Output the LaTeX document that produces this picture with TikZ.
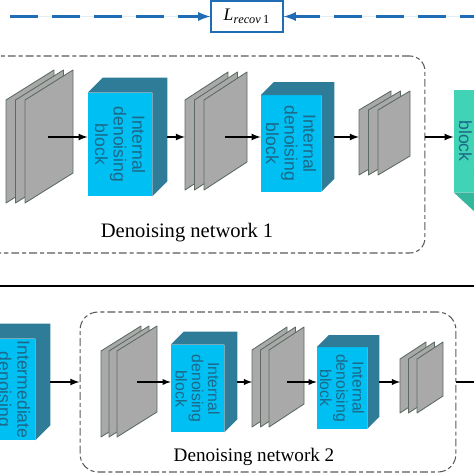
\documentclass[tikz,border=0pt]{standalone}
\usepackage{fontspec}
\setmainfont{Liberation Serif}
\setsansfont{Liberation Sans}
\usepackage{tikz}
\usetikzlibrary{arrows,calc,positioning}

\definecolor{sheetgray}{HTML}{A9A9A9}
\definecolor{sheetedge}{HTML}{5C6B62}
\definecolor{cubecyan}{HTML}{00BFF2}
\definecolor{cubedark}{HTML}{2E7C97}
\definecolor{cubeink}{HTML}{1D6888}
\definecolor{tealfront}{HTML}{40D3B6}
\definecolor{tealdark}{HTML}{34B79D}
\definecolor{lossblue}{HTML}{1F6DB5}
\definecolor{netgray}{HTML}{5A5A5A}

% faces of a block: node, depth
\newcommand{\cubefaces}[2]{%
    \fill[cubefront] ([yshift=-#2]#1.north west) rectangle ([xshift=-#2]#1.south east);
    \fill[cubeside] ([yshift=-#2]#1.north west) -- ([xshift=#2]#1.north west) -- (#1.north east)
        -- ([yshift=#2]#1.south east) -- ([xshift=-#2]#1.south east) -- ([xshift=-#2,yshift=-#2]#1.north east) -- cycle;
}
% three feature maps: x, bottom y, width, height, slant, gap
\newcommand{\fmaps}[6]{%
    \foreach \i in {0,1,2}
        \filldraw[sheet] ({#1+\i*#6},#2) -- ++(0,-#4) -- ++(#3,-#5) -- ++(0,#4) -- cycle;
}

\begin{document}
\begin{tikzpicture}[
        x=0.02cm, y=-0.02cm,
        >=latex,
        % Block styles
        sheet/.style={fill=sheetgray, draw=sheetedge, line width=0.5pt, line join=round},
        dblock/.style={rectangle, inner sep=0pt, draw=none},
        cubefront/.style={fill=cubecyan},
        cubeside/.style={fill=cubedark},
        cubetext/.style={
            rotate=-90,
            align=center,
            inner sep=0pt,
            text=cubeink,
            font=\sffamily\fontsize{10}{10.6}\selectfont
        },
        smalltext/.style={font=\sffamily\fontsize{9}{9.2}\selectfont},
        netbox/.style={
            rectangle,
            draw=netgray,
            line width=0.6pt,
            rounded corners=0.3cm,
            dash pattern=on 4.5pt off 1.7pt on 2.3pt off 1.7pt
        },
        netlabel/.style={font=\fontsize{11.7}{13}\selectfont},
        lossbox/.style={
            rectangle,
            draw=lossblue,
            line width=0.8pt,
            fill=white,
            minimum width=1.44cm,
            minimum height=0.62cm,
            font=\fontsize{10}{11}\selectfont
        },
        lossline/.style={->, draw=lossblue, fill=lossblue, line width=1.4pt, dash pattern=on 0.56cm off 0.28cm},
        arrow/.style={->, thick},
        arrowb/.style={->, semithick}
    ]
    \useasboundingbox (0,0) rectangle (474,474);
    \clip (0,0) rectangle (474,474);

    % Loss
    \node[lossbox] (loss) at (247,16.5) {$\mathit{L}_{\mathit{recov}\,\mathrm{1}}$};
    \coordinate (lossL) at (10,16.5);
    \coordinate (lossR) at (488,16.5);
    \draw[lossline] (lossL) -- (loss.west);
    \draw[lossline] (lossR) -- (loss.east);

    % Denoising network 1
    \node[netbox, minimum width=8.9cm, minimum height=3.94cm] (net1) at (202.5,154.5) {};
    \node[netlabel] (net1lbl) at (187,233) {Denoising network 1};

    \fmaps{6}{203}{48}{103}{30}{9.5}
    \coordinate (f1) at (48,137);
    \node[dblock, minimum width=1.58cm, minimum height=2.36cm] (b1) at (127.5,137) {};
    \cubefaces{b1}{0.3cm}
    \node[cubetext] (t1) at ([xshift=-0.15cm,yshift=-0.15cm]b1.center) {Internal\\denoising\\block};

    \fmaps{185}{190}{43}{90}{28}{9.5}
    \coordinate (m2) at (185,137);
    \coordinate (f2) at (225,137);
    \node[dblock, minimum width=1.46cm, minimum height=2.18cm] (b2) at (297.5,137) {};
    \cubefaces{b2}{0.26cm}
    \node[cubetext] (t2) at ([xshift=-0.13cm,yshift=-0.13cm]b2.center) {Internal\\denoising\\block};

    \fmaps{359}{175}{32}{65}{19}{9.5}
    \coordinate (m3) at (359,137);

    % Intermediate block (right)
    \node[dblock, fill=tealfront, minimum width=1.2cm, minimum height=2.04cm] (idb) at (484,141) {};
    \fill[tealdark] (idb.south west) -- (idb.south east) -- ([xshift=0.4cm,yshift=-0.37cm]idb.south east)
        -- ([xshift=0.4cm,yshift=-0.37cm]idb.south west) -- cycle;
    \node[cubetext] (t5) at (idb.center) {Intermediate\\denoising\\block};

    \draw[arrow] (f1) -- (b1.west);
    \draw[arrow] (b1.east) -- (m2);
    \draw[arrow] (f2) -- (b2.west);
    \draw[arrow] (b2.east) -- (m3);
    \draw[arrow] (net1.east |- f1) -- (idb.west |- f1);

    % Separator
    \draw[line width=1.1pt] (0,286) -- (474,286);

    % Denoising network 2
    \node[netbox, rounded corners=0.36cm, minimum width=7.52cm, minimum height=3.2cm] (net2) at (268,392) {};
    \node[netlabel, font=\fontsize{10.9}{12}\selectfont] (net2lbl) at (254,457) {Denoising network 2};

    \node[dblock, minimum width=1.5cm, minimum height=2.32cm] (ib) at (12.5,382) {};
    \cubefaces{ib}{0.3cm}
    \node[cubetext] (t6) at ([xshift=-0.15cm,yshift=-0.15cm]ib.center) {Intermediate\\denoising\\block};

    \fmaps{101}{437}{40}{86}{25}{8}
    \coordinate (f4) at (137,382);
    \node[dblock, minimum width=1.32cm, minimum height=2.0cm] (b3) at (204,382) {};
    \cubefaces{b3}{0.26cm}
    \node[cubetext, smalltext] (t3) at ([xshift=-0.13cm,yshift=-0.13cm]b3.center) {Internal\\denoising\\block};

    \fmaps{252}{427}{35}{77}{23}{8.5}
    \coordinate (m5) at (252,382);
    \coordinate (f5) at (287,382);
    \node[dblock, minimum width=1.24cm, minimum height=1.86cm] (b4) at (348,382) {};
    \cubefaces{b4}{0.24cm}
    \node[cubetext, smalltext] (t4) at ([xshift=-0.12cm,yshift=-0.12cm]b4.center) {Internal\\denoising\\block};

    \fmaps{400}{413}{26}{54}{17}{8.5}
    \coordinate (m6) at (400,382);
    \coordinate (out2) at (480,382);

    \draw[arrow] (ib.east) -- (ib.east -| net2.west);
    \draw[arrowb] (f4) -- (b3.west);
    \draw[arrowb] (b3.east) -- (m5);
    \draw[arrowb] (f5) -- (b4.west);
    \draw[arrowb] (b4.east) -- (m6);
    \draw[thick] (net2.east |- f4) -- (out2);

\end{tikzpicture}
\end{document}
